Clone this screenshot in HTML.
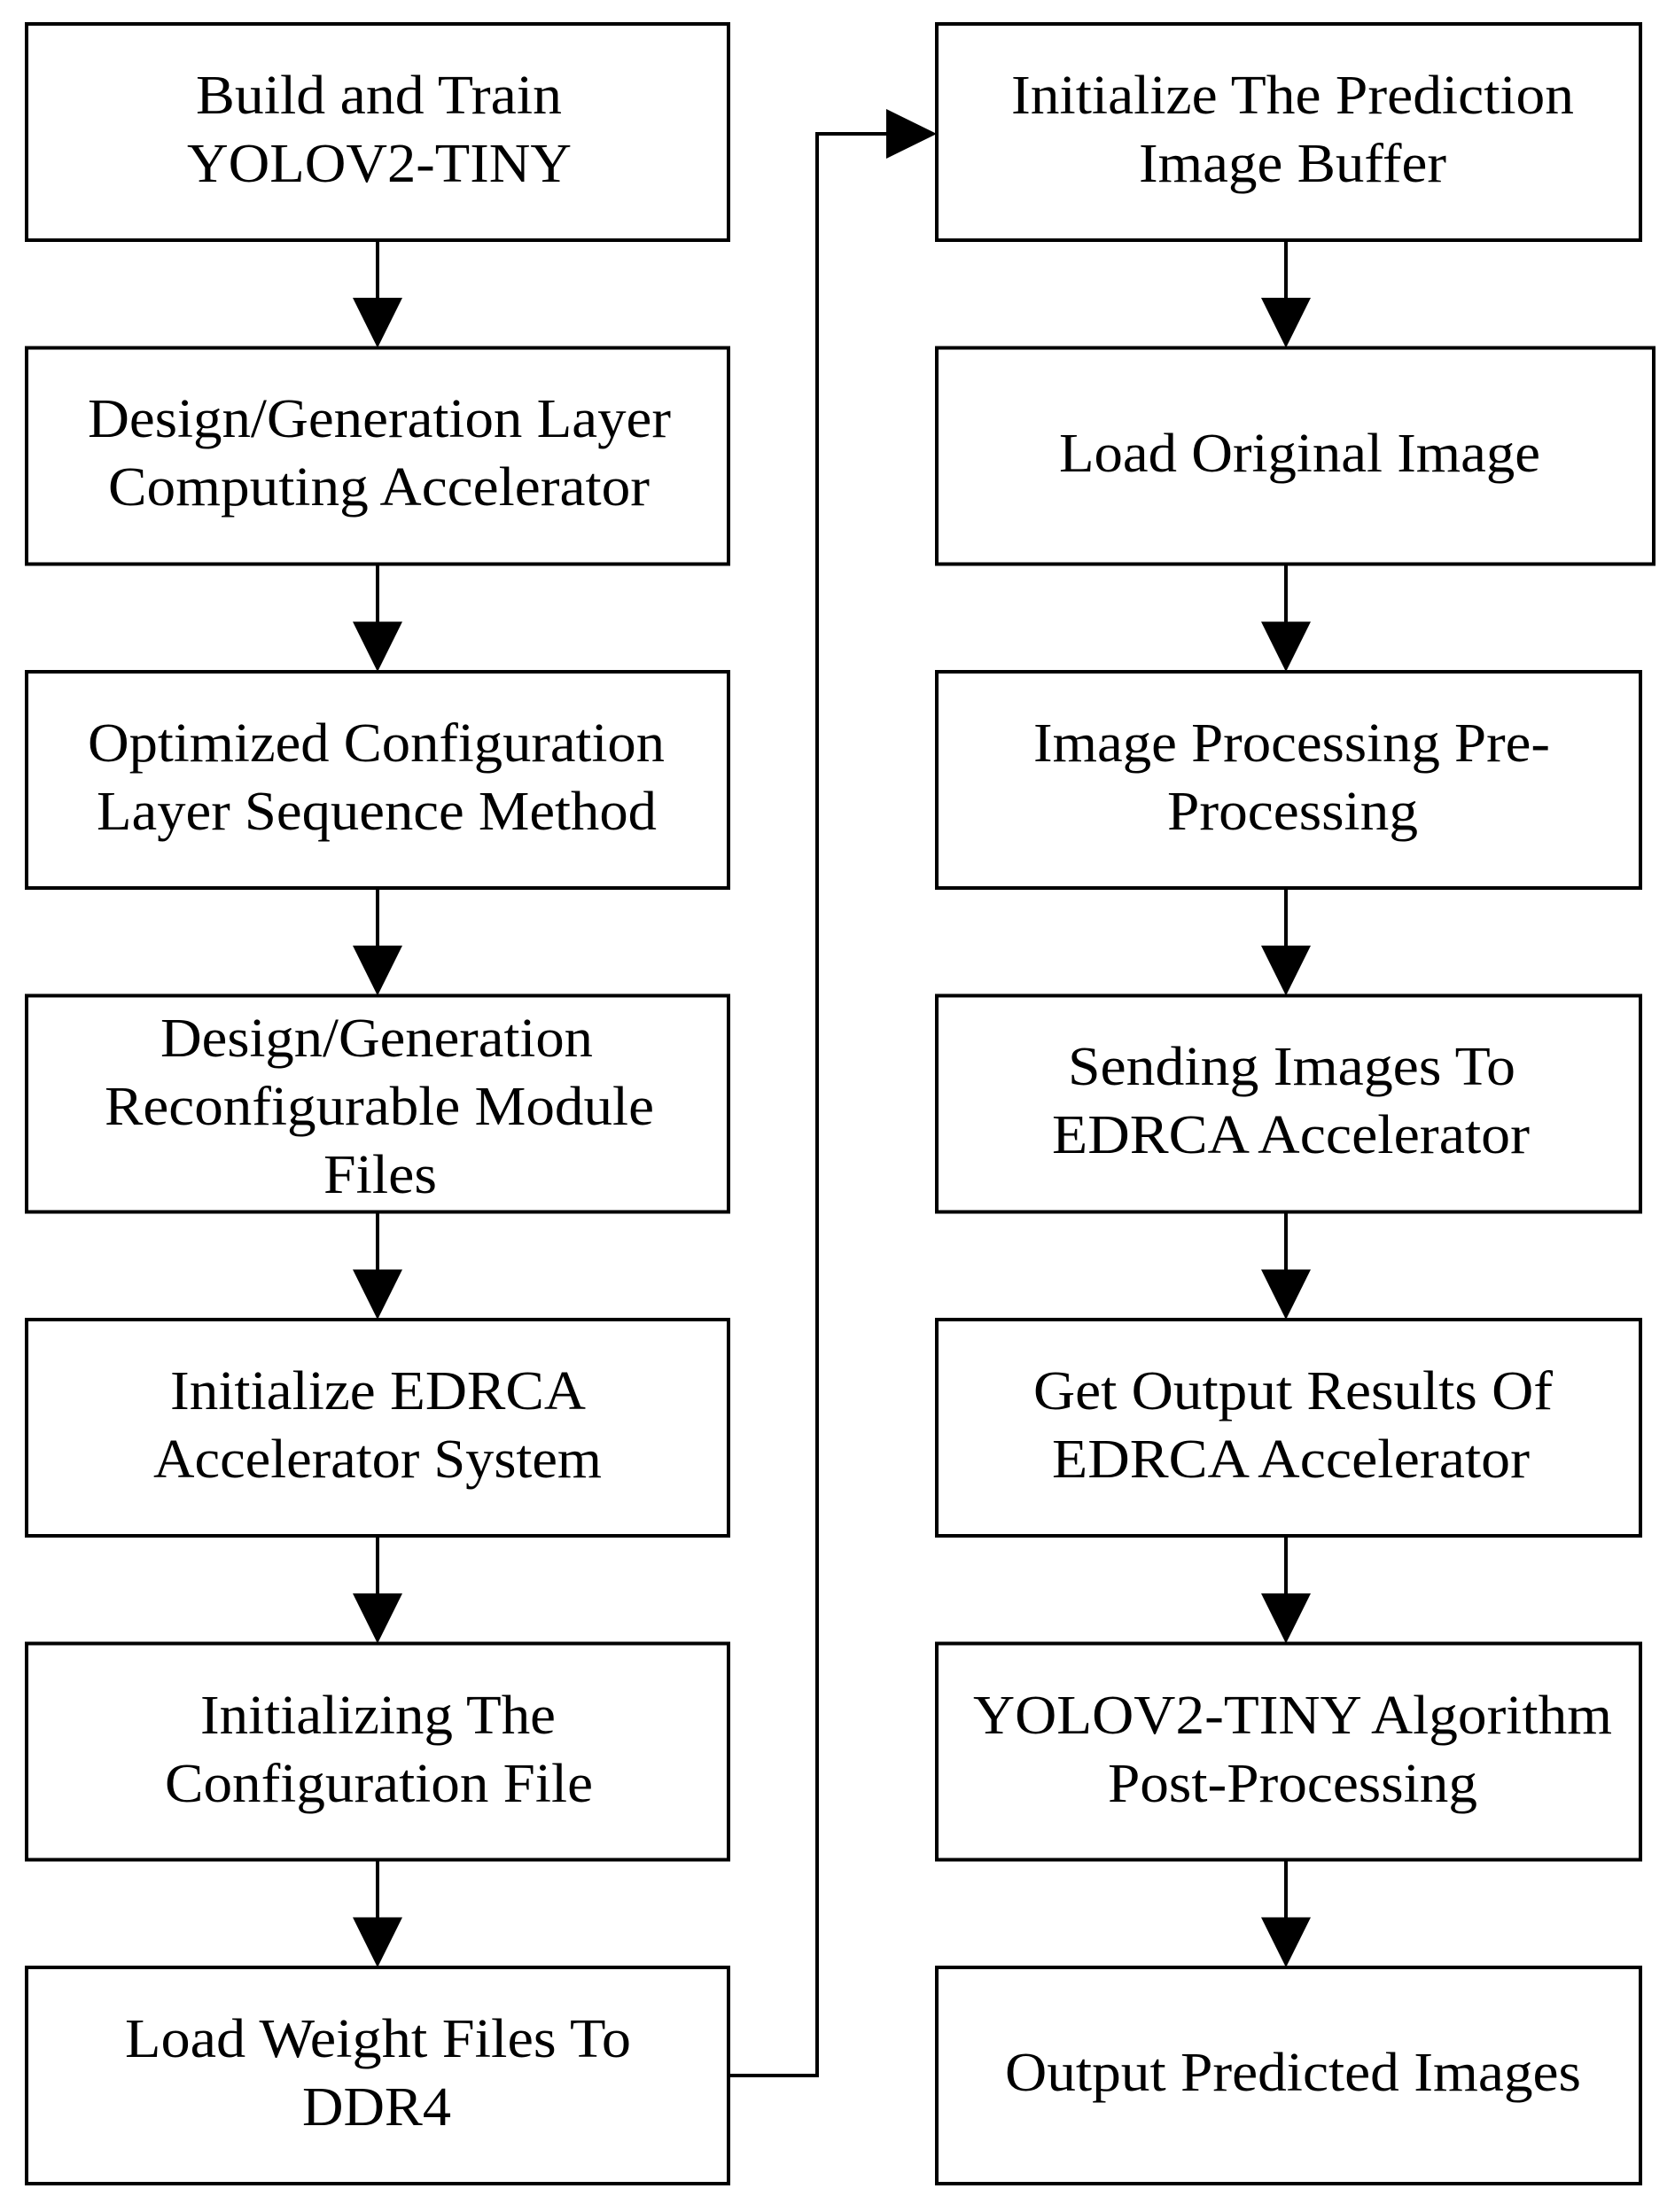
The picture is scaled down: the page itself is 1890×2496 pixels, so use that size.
<!DOCTYPE html>
<html><head><meta charset="utf-8"><style>
html,body{margin:0;padding:0;background:#fff;}
svg{display:block;}
text{font-family:"Liberation Serif",serif;font-size:62px;fill:#000;}
</style></head><body>
<svg width="1890" height="2496" viewBox="0 0 1890 2496" xmlns="http://www.w3.org/2000/svg">
<g fill="none" stroke="#000" stroke-width="4">
<rect x="30" y="27" width="792" height="244"/>
<rect x="30" y="392.5" width="792" height="244"/>
<rect x="30" y="758" width="792" height="244"/>
<rect x="30" y="1123.5" width="792" height="244"/>
<rect x="30" y="1489" width="792" height="244"/>
<rect x="30" y="1854.5" width="792" height="244"/>
<rect x="30" y="2220" width="792" height="244"/>
<rect x="1057" y="27" width="794" height="244"/>
<rect x="1057" y="392.5" width="809" height="244"/>
<rect x="1057" y="758" width="794" height="244"/>
<rect x="1057" y="1123.5" width="794" height="244"/>
<rect x="1057" y="1489" width="794" height="244"/>
<rect x="1057" y="1854.5" width="794" height="244"/>
<rect x="1057" y="2220" width="794" height="244"/>
<!-- shafts -->
<path d="M426 271V340 M426 636.5V705 M426 1002V1071 M426 1367.5V1436 M426 1733V1802 M426 2098.5V2167"/>
<path d="M1451 271V340 M1451 636.5V705 M1451 1002V1071 M1451 1367.5V1436 M1451 1733V1802 M1451 2098.5V2167"/>
<path d="M822 2342H922V151H1005"/>
</g>
<g fill="#000">
<polygon points="398,336 454,336 426,392.5"/>
<polygon points="398,701.5 454,701.5 426,758"/>
<polygon points="398,1067 454,1067 426,1123.5"/>
<polygon points="398,1432.5 454,1432.5 426,1489"/>
<polygon points="398,1798 454,1798 426,1854.5"/>
<polygon points="398,2163.5 454,2163.5 426,2220"/>
<polygon points="1423,336 1479,336 1451,392.5"/>
<polygon points="1423,701.5 1479,701.5 1451,758"/>
<polygon points="1423,1067 1479,1067 1451,1123.5"/>
<polygon points="1423,1432.5 1479,1432.5 1451,1489"/>
<polygon points="1423,1798 1479,1798 1451,1854.5"/>
<polygon points="1423,2163.5 1479,2163.5 1451,2220"/>
<polygon points="1000,123 1057,151 1000,179"/>
</g>
<g lengthAdjust="spacingAndGlyphs">
<text x="221" y="128" textLength="413" lengthAdjust="spacingAndGlyphs">Build and Train</text>
<text x="211" y="205" textLength="434" lengthAdjust="spacingAndGlyphs">YOLOV2-TINY</text>
<text x="99" y="493" textLength="658" lengthAdjust="spacingAndGlyphs">Design/Generation Layer</text>
<text x="122" y="570" textLength="611" lengthAdjust="spacingAndGlyphs">Computing Accelerator</text>
<text x="99" y="859" textLength="651" lengthAdjust="spacingAndGlyphs">Optimized Configuration</text>
<text x="109" y="936" textLength="632" lengthAdjust="spacingAndGlyphs">Layer Sequence Method</text>
<text x="181" y="1192" textLength="488" lengthAdjust="spacingAndGlyphs">Design/Generation</text>
<text x="118" y="1269" textLength="620" lengthAdjust="spacingAndGlyphs">Reconfigurable Module</text>
<text x="365" y="1346" textLength="128" lengthAdjust="spacingAndGlyphs">Files</text>
<text x="192" y="1590" textLength="469" lengthAdjust="spacingAndGlyphs">Initialize EDRCA</text>
<text x="173" y="1667" textLength="506" lengthAdjust="spacingAndGlyphs">Accelerator System</text>
<text x="226" y="1956" textLength="401" lengthAdjust="spacingAndGlyphs">Initializing The</text>
<text x="186" y="2033" textLength="483" lengthAdjust="spacingAndGlyphs">Configuration File</text>
<text x="141" y="2321" textLength="571" lengthAdjust="spacingAndGlyphs">Load Weight Files To</text>
<text x="341" y="2398" textLength="168" lengthAdjust="spacingAndGlyphs">DDR4</text>

<text x="1141" y="128" textLength="635" lengthAdjust="spacingAndGlyphs">Initialize The Prediction</text>
<text x="1285" y="205" textLength="347" lengthAdjust="spacingAndGlyphs">Image Buffer</text>
<text x="1195" y="532" textLength="543" lengthAdjust="spacingAndGlyphs">Load Original Image</text>
<text x="1166" y="859" textLength="583" lengthAdjust="spacingAndGlyphs">Image Processing Pre-</text>
<text x="1317" y="936" textLength="283" lengthAdjust="spacingAndGlyphs">Processing</text>
<text x="1205" y="1224" textLength="505" lengthAdjust="spacingAndGlyphs">Sending Images To</text>
<text x="1187" y="1301" textLength="539" lengthAdjust="spacingAndGlyphs">EDRCA Accelerator</text>
<text x="1166" y="1590" textLength="586" lengthAdjust="spacingAndGlyphs">Get Output Results Of</text>
<text x="1187" y="1667" textLength="539" lengthAdjust="spacingAndGlyphs">EDRCA Accelerator</text>
<text x="1098" y="1956" textLength="721" lengthAdjust="spacingAndGlyphs">YOLOV2-TINY Algorithm</text>
<text x="1250" y="2033" textLength="417" lengthAdjust="spacingAndGlyphs">Post-Processing</text>
<text x="1134" y="2359" textLength="650" lengthAdjust="spacingAndGlyphs">Output Predicted Images</text>
</g>
</svg>
</body></html>
